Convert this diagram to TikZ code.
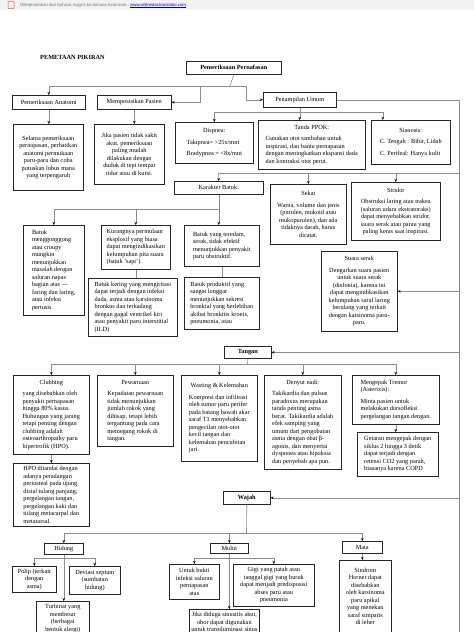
\documentclass[tikz,border=0pt]{standalone}
\usepackage{fontspec}
\setmainfont{Liberation Serif}
\newfontfamily\hdrfont{Liberation Sans}
\usetikzlibrary{arrows.meta}
\newcommand{\isi}{\fontsize{6.3}{7.5}\selectfont}

\begin{document}
\begin{tikzpicture}[x=1pt, y=-1pt,
	box/.style={draw=black!85, line width=.6pt, anchor=north west, inner xsep=2pt, inner ysep=1.5pt, font=\isi},
	judulbox/.style={box, font=\isi\bfseries},
	garis/.style={draw=black!45, line width=.6pt},
	panah/.style={garis, -{Stealth[length=3pt, width=2.6pt, color=black]}}]
	\clip (0,0) rectangle (474,632);
	% header strip
	\fill[black!5] (0,0) rectangle (474,10);
	\draw[red!70, line width=.5pt, rounded corners=.5pt] (8,1.5) rectangle (14,8.5);
	\node[anchor=west, inner sep=0, font=\hdrfont\fontsize{4.3}{5}\selectfont, text=black!55] (kop) at (20,5.5) {Diterjemahkan dari bahasa Inggris ke bahasa Indonesia - \textcolor{blue!70!black}{\underline{www.onlinedoctranslator.com}}};
	\node[anchor=west, inner sep=0, font=\isi\bfseries] (judul) at (40,57) {PEMETAAN PIKIRAN};

	% level 1 and 2
	\node[judulbox, minimum width=95, minimum height=13] (resp) at (186,61) {Pemeriksaan Pernafasan};
	\node[box, minimum width=73, minimum height=14] (anat) at (12,95) {Pemeriksaan Anatomi};
	\node[box, minimum width=74, minimum height=14] (posisi) at (97,95) {Memposisikan Pasien};
	\node[box, minimum width=73, minimum height=15] (umum) at (263,92) {Penampilan Umum};
	\node[box, align=center, minimum width=70, minimum height=66] (anatT) at (13,124) {Selama pemeriksaan\\ pernapasan, perhatikan\\ anatomi permukaan\\ paru-paru dan coba\\ putuskan lobus mana\\ yang terpengaruh};
	\node[box, align=center, minimum width=70, minimum height=60] (posisiT) at (94,124) {Jika pasien tidak sakit\\ akut, pemeriksaan\\ paling mudah\\ dilakukan dengan\\ duduk di tepi tempat\\ tidur atau di kursi.};

	% penampilan umum
	\node[box, minimum width=78, minimum height=41] (dispnea) at (175,122) {\begin{tabular}{@{}l@{}}
		\multicolumn{1}{@{}c@{}}{Dispnea:}\\[4pt]
		Takipnea= >25x/mnt\\[4pt]
		Bradypnea = <8x/mnt
		\end{tabular}};
	\node[box, minimum width=107, minimum height=49] (ppok) at (258,120) {\begin{tabular}{@{}l@{}}
		\multicolumn{1}{@{}c@{}}{Tanda PPOK:}\\[4pt]
		Gunakan otot tambahan untuk\\
		inspirasi, dan bantu pernapasan\\
		dengan meningkatkan ekspansi dada\\
		dan kontraksi otot perut.
		\end{tabular}};
	\node[box, minimum width=79, minimum height=44] (sianosis) at (371,120) {\begin{tabular}{@{}l@{}}
		\multicolumn{1}{@{}c@{}}{Sianosis:}\\[4pt]
		C. Tengah : Bibir, Lidah\\[4pt]
		C. Perifeal: Hanya kulit
		\end{tabular}};
	\node[box, minimum width=89, minimum height=13] (batuk) at (174,181) {Karakter Batuk:};
	\node[box, align=center, minimum width=76, minimum height=60] (sekat) at (270,184) {Sekat\\[4pt] Warna, volume dan jenis\\ (purulen, mukoid atau\\ mukopurulen), dan ada\\ tidaknya darah, harus\\ dicatat.};
	\node[box, align=center, minimum width=89, minimum height=58] (stridor) at (351,182) {Stridor\\[4pt] Obstruksi laring atau trakea\\ (saluran udara ekstratoraks)\\ dapat menyebabkan stridor,\\ suara serak atau parau yang\\ paling keras saat inspirasi.};
	\node[box, align=center, minimum width=76, minimum height=80] (serak) at (321,251) {Suara serak\\[4pt] Dengarkan suara pasien\\ untuk suara serak\\ (disfonia), karena ini\\ dapat mengindikasikan\\ kelumpuhan saraf laring\\ berulang yang terkait\\ dengan karsinoma paru-\\ paru.};

	% karakter batuk
	\node[box, align=left, minimum width=61, minimum height=90] (gonggong) at (23,225) {Batuk\\ menggonggong\\ atau croupy\\ mungkin\\ menunjukkan\\ masalah dengan\\ saluran napas\\ bagian atas ---\\ faring dan laring,\\ atau infeksi\\ pertusis};
	\node[box, align=left, minimum width=69, minimum height=44] (kurang) at (101,225) {Kurangnya permulaan\\ eksplosif yang biasa\\ dapat mengindikasikan\\ kelumpuhan pita suara\\ (batuk 'sapi').};
	\node[box, align=left, minimum width=89, minimum height=58] (kering) at (88,278) {Batuk kering yang mengiritasi\\ dapat terjadi dengan infeksi\\ dada, asma atau karsinoma\\ bronkus dan terkadang\\ dengan gagal ventrikel kiri\\ atau penyakit paru interstitial\\ (ILD)};
	\node[box, align=left, minimum width=75, minimum height=41] (redam) at (184,225) {Batuk yang teredam,\\ serak, tidak efektif\\ menunjukkan penyakit\\ paru obstruktif.};
	\node[box, align=left, minimum width=75, minimum height=52] (produktif) at (184,277) {Batuk produktif yang\\ sangat longgar\\ menunjukkan sekresi\\ bronkial yang berlebihan\\ akibat bronkitis kronis,\\ pneumonia, atau};

	% tangan
	\node[judulbox, minimum width=47, minimum height=12] (tangan) at (224,346) {Tangan};
	\node[box, minimum width=76, minimum height=79] (clubbing) at (13,375) {\begin{tabular}{@{}l@{}}
		\multicolumn{1}{@{}c@{}}{Clubbing}\\[4pt]
		yang disebabkan oleh\\ penyakit pernapasan\\ hingga 80\% kasus.\\ Hubungan yang jarang\\ tetapi penting dengan\\ clubbing adalah\\ osteoarthropathy paru\\ hipertrofik (HPO).
		\end{tabular}};
	\node[box, align=left, minimum width=76, minimum height=63] (hpo) at (13,463) {HPO ditandai dengan\\ adanya peradangan\\ periosteal pada ujung\\ distal tulang panjang,\\ pergelangan tangan,\\ pergelangan kaki dan\\ tulang metacarpal dan\\ metatarsal.};
	\node[box, minimum width=76, minimum height=71] (pewarnaan) at (97,375) {\begin{tabular}{@{}l@{}}
		\multicolumn{1}{@{}c@{}}{Pewarnaan}\\[4pt]
		Kepadatan pewarnaan\\ tidak menunjukkan\\ jumlah rokok yang\\ dihisap, tetapi lebih\\ tergantung pada cara\\ memegang rokok di\\ tangan.
		\end{tabular}};
	\node[box, minimum width=76, minimum height=86] (wasting) at (181,375) {\begin{tabular}{@{}l@{}}
		\multicolumn{1}{@{}c@{}}{Wasting \& Kelemahan}\\[4pt]
		Kompresi dan infiltrasi\\ oleh tumor paru perifer\\ pada batang bawah akar\\ saraf T1 menyebabkan\\ pengecilan otot-otot\\ kecil tangan dan\\ kelemahan pencubitan\\ jari.
		\end{tabular}};
	\node[box, minimum width=77, minimum height=94] (nadi) at (264,375) {\begin{tabular}{@{}l@{}}
		\multicolumn{1}{@{}c@{}}{Denyut nadi:}\\[4pt]
		Takikardia dan pulsus\\ paradoxus merupakan\\ tanda penting asma\\ berat. Takikardia adalah\\ efek samping yang\\ umum dari pengobatan\\ asma dengan obat β-\\ agonis, dan menyertai\\ dyspnoea atau hipoksia\\ dan penyebab apa pun.
		\end{tabular}};
	\node[box, align=left, minimum width=87, minimum height=49] (tremor) at (352,375) {Mengepak Tremor\\ (Asterixis):\\[4pt] Minta pasien untuk\\ melakukan dorsofleksi\\ pergelangan tangan dengan.};
	\node[box, align=left, minimum width=81, minimum height=44] (getaran) at (357,432) {Getaran mengepak dengan\\ siklus 2 hingga 3 detik\\ dapat terjadi dengan\\ retensi CO2 yang parah,\\ biasanya karena COPD};

	% wajah
	\node[judulbox, minimum width=47, minimum height=13] (wajah) at (223,491) {Wajah};
	\node[box, minimum width=39, minimum height=11] (hidung) at (44,543) {Hidung};
	\node[box, minimum width=38, minimum height=10] (mulut) at (210,543) {Mulut};
	\node[box, minimum width=40, minimum height=12] (mata) at (342,541) {Mata};
	\node[box, align=center, minimum width=44, minimum height=26] (polip) at (12,566) {Polip (terkait\\ dengan\\ asma)};
	\node[box, align=center, minimum width=51, minimum height=28] (deviasi) at (69,566) {Deviasi septum\\ (sumbatan\\ hidung)};
	\node[box, align=center, minimum width=53, minimum height=34] (turbinat) at (36,601) {Turbinat yang\\ membesar\\ (berbagai\\ bentuk alergi)};
	\node[box, align=center, minimum width=50, minimum height=35] (ispa) at (169,564) {Untuk bukti\\ infeksi saluran\\ pernapasan\\ atas};
	\node[box, align=center, minimum width=81, minimum height=42] (gigi) at (233,564) {Gigi yang patah atau\\ tanggal gigi yang buruk\\ dapat menjadi predisposisi\\ abses paru atau\\ pneumonia};
	\node[box, align=center, minimum width=68, minimum height=26] (sinus) at (189,609) {Jika diduga sinusitis akut,\\ obor dapat digunakan\\ untuk transiluminasi sinus};
	\node[box, align=center, minimum width=52, minimum height=72] (horner) at (339,560) {Sindrom\\ Horner dapat\\ disebabkan\\ oleh karsinoma\\ paru apikal\\ yang menekan\\ saraf simpatis\\ di leher};

	% connectors
	\coordinate (busA) at (230,86);
	\coordinate (trk) at (459,0);
	\draw[garis] (resp.south) -- (busA);
	\draw[panah] (busA) -| (anat.north);
	\draw[panah] (busA) -| ([xshift=29pt]posisi.east) -- (posisi.east);
	\draw[panah] (busA) -| ([xshift=-17pt]umum.west) -- (umum.west);
	\draw[garis] (umum.east) -| (459,640);
	\draw[panah] (anat.south) -- (anat.south |- anatT.north);
	\draw[panah] (posisi.south) -- (posisi.south |- posisiT.north);

	\coordinate (busC) at (299.5,112);
	\draw[panah] (umum.south) -- (umum.south |- ppok.north);
	\draw[panah] (dispnea.north |- busC) -- (dispnea.north);
	\draw[panah] (dispnea.north |- busC) -| ([xshift=-28pt]sianosis.north);

	\coordinate (busB) at (218.5,173);
	\draw[garis] (trk |- busB) -- (busB);
	\draw[panah] (busB) -- (batuk.north);
	\draw[panah] (busB -| sekat.north) -- (sekat.north);
	\draw[panah] (busB -| stridor.north) -- (stridor.north);
	\draw[panah] (trk |- serak.east) -- (serak.east);

	\coordinate (busD) at (218.5,209);
	\draw[panah] (batuk.south) -- (batuk.south |- redam.north);
	\draw[panah] (busD) -| (gonggong.north);
	\draw[panah] (kurang.north |- busD) -- (kurang.north);
	\draw[garis] (kurang.south) -- (kurang.south |- kering.north);
	\draw[garis] (redam.south) -- (redam.south |- produktif.north);

	\coordinate (busE) at (247.5,364);
	\draw[panah] (trk |- tangan.east) -- (tangan.east);
	\draw[garis] (tangan.south) -- (busE);
	\draw[panah] (busE) -| (clubbing.north);
	\draw[panah] (pewarnaan.north |- busE) -- (pewarnaan.north);
	\draw[panah] (wasting.north |- busE) -- (wasting.north);
	\draw[panah] (nadi.north |- busE) -- (nadi.north);
	\draw[panah] (busE) -| (tremor.north);
	\draw[panah] (clubbing.south) -- (clubbing.south |- hpo.north);
	\draw[panah] (tremor.south) -- (tremor.south |- getaran.north);

	\coordinate (busF) at (246.5,533);
	\draw[panah] (trk |- wajah.east) -- (wajah.east);
	\draw[garis] (wajah.south) -- (busF);
	\draw[panah] (busF) -| (hidung.north);
	\draw[panah] (busF) -| (mata.north);
	\draw[panah] (mulut.north |- busF) -- (mulut.north);

	\coordinate (busG) at (63.5,558);
	\draw[panah] (hidung.south) -- (hidung.south |- turbinat.north);
	\draw[panah] (busG) -| (polip.north);
	\draw[panah] (busG) -| (deviasi.north);

	\coordinate (busH) at (229,558);
	\draw[panah] (mulut.south) -- (mulut.south |- sinus.north);
	\draw[panah] (busH) -| (ispa.north);
	\draw[panah] (busH) -| (gigi.north);
	\draw[panah] (mata.south) -- (mata.south |- horner.north);
\end{tikzpicture}
\end{document}
